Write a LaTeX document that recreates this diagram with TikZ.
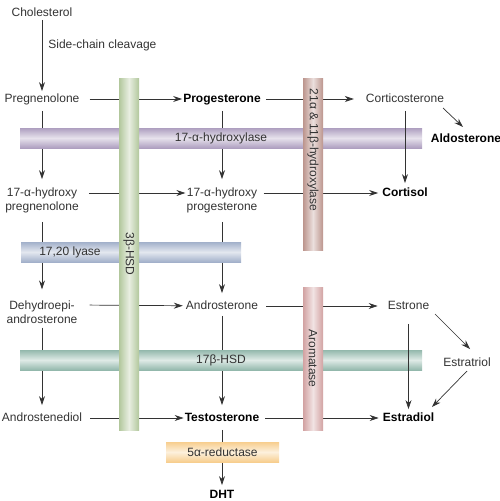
\documentclass[tikz,border=0pt]{standalone}
\usepackage{fontspec}
\setmainfont{Liberation Sans}
\usepackage{xcolor}
\usepackage{tikz}
\usetikzlibrary{arrows.meta, positioning}
\definecolor{ink}{HTML}{333333}
\definecolor{hsdgreen}{HTML}{B2C79C}
\definecolor{hydpurple}{HTML}{AE9FC0}
\definecolor{lyaseblue}{HTML}{A2B0CA}
\definecolor{cypbrown}{HTML}{BC958D}
\definecolor{hsdteal}{HTML}{93B8AC}
\definecolor{aropink}{HTML}{D2A2A2}
\definecolor{redorange}{HTML}{F7CE8E}
\tikzset{
  met/.style={text=ink, font=\fontsize{12}{14}\selectfont, inner sep=1pt, text height=9pt, text depth=2.5pt},
  mettwo/.style={text=ink, font=\fontsize{12}{14}\selectfont, inner sep=1pt, align=center},
  hormone/.style={met, text=black, font=\fontsize{12}{14}\selectfont\bfseries},
  enzyme/.style={rectangle, inner sep=0pt, minimum height=20pt, top color=#1, bottom color=#1, middle color=#1!30, text=ink, font=\fontsize{12}{14}\selectfont},
  venzyme/.style={rectangle, inner sep=0pt, minimum height=20pt, rotate=-90, left color=#1, right color=#1, middle color=#1!30, text=ink, font=\fontsize{12}{14}\selectfont},
  barlbl/.style={text=ink, font=\fontsize{12}{14}\selectfont, inner sep=0pt},
  arr/.style={-{Stealth[length=9pt,width=6pt]}, line width=0.7pt, ink},
}
\begin{document}
\begin{tikzpicture}[x=1pt,y=-1pt]
\useasboundingbox (0,0) rectangle (500,501);
\node[met] (chol) at (42,13) {Cholesterol};
\node[met] (preg) at (42,99) {Pregnenolone};
\node[hormone] (prog) at (222,99) {Progesterone};
\node[met] (corticost) at (405,99) {Corticosterone};
\node[hormone] (aldo) at (466,139) {Aldosterone};
\node[mettwo] (ohpreg) at (42,200) {17-α-hydroxy\\pregnenolone};
\node[mettwo] (ohprog) at (222,200) {17-α-hydroxy\\progesterone};
\node[hormone] (cortisol) at (405,193) {Cortisol};
\node[mettwo] (dhea) at (42,312) {Dehydroepi-\\androsterone};
\node[met] (andro) at (222,306) {Androsterone};
\node[met] (estrone) at (408.5,306) {Estrone};
\node[met] (estriol) at (467,363) {Estratriol};
\node[met] (adiol) at (42,418) {Androstenediol};
\node[hormone] (testo) at (222,418) {Testosterone};
\node[hormone] (estradiol) at (408.5,418) {Estradiol};
\node[hormone] (dht) at (222,495) {DHT};

\draw[arr, shorten >=1pt] (chol) -- node[met, right=5pt, pos=0.35] (scc) {Side-chain cleavage} (preg);
\draw[arr, shorten <=9pt, shorten >=0pt] (preg) -- (prog);
\draw[arr, shorten <=4pt, shorten >=11pt] (prog) -- (corticost);
\draw[arr] ([shift={(38,9)}]corticost.center) -- ([shift={(-3,-12)}]aldo.center);
\draw[arr, shorten <=5pt, shorten >=7pt] (preg) -- (ohpreg);
\draw[arr, shorten <=5pt, shorten >=7pt] (prog) -- (ohprog);
\draw[arr, shorten <=9pt] ([yshift=7pt]ohpreg.east) -- ([yshift=7pt]ohprog.west);
\draw[arr, shorten <=5pt, shorten >=3pt] ([yshift=7pt]ohprog.east) -- (cortisol);
\draw[arr, shorten <=8pt, shorten >=10pt] (ohpreg) -- (dhea);
\draw[arr, shorten <=8pt, shorten >=6pt] (ohprog) -- (andro);
\draw[arr, shorten <=11pt, shorten >=2pt] ([yshift=7pt]dhea.east) -- (andro);
\draw[arr, shorten <=7pt, shorten >=9pt] (andro) -- (estrone);
\draw[arr] ([shift={(26.5,8)}]estrone.center) -- ([shift={(3,-14)}]estriol.center);
\draw[arr] ([shift={(0,8)}]estriol.center) -- ([shift={(23.5,-11)}]estradiol.center);
\draw[arr, shorten <=3pt, shorten >=6pt] (dhea) -- (adiol);
\draw[arr, shorten <=3pt, shorten >=6pt] (andro) -- (testo);
\draw[arr, shorten <=7pt, shorten >=0pt] (adiol) -- (testo);
\draw[arr, shorten <=5pt, shorten >=3pt] (testo) -- (estradiol);
\draw[arr, shorten <=5pt, shorten >=3pt] (testo) -- (dht);

\node[enzyme=hydpurple, minimum width=402pt] (hydrox) at (221,138) {17-α-hydroxylase};
\node[enzyme=lyaseblue, minimum width=220pt] (lyase) at (131,252) {};
\node[barlbl] (lyasel) at (70,252) {17,20 lyase};
\node[enzyme=hsdteal, minimum width=402pt] (hsdseventeen) at (221,360) {17β-HSD};
\node[enzyme=redorange, minimum width=113pt] (reduct) at (222.5,452) {5α-reductase};
\node[venzyme=hsdgreen, minimum width=352pt] (hsdthree) at (129,254) {3β-HSD};
\node[venzyme=cypbrown, minimum width=172pt] (cyp) at (313,164) {};
\node[barlbl, rotate=-90] (cypl) at (313,150) {21α \& 11β-hydroxylase};
\node[venzyme=aropink, minimum width=143pt] (arom) at (313,358.5) {Aromatase};

\draw[arr, shorten <=5pt, shorten >=3pt] (corticost) -- (cortisol);
\draw[arr, shorten <=11pt, shorten >=2pt] (estrone) -- (estradiol);
\end{tikzpicture}
\end{document}
